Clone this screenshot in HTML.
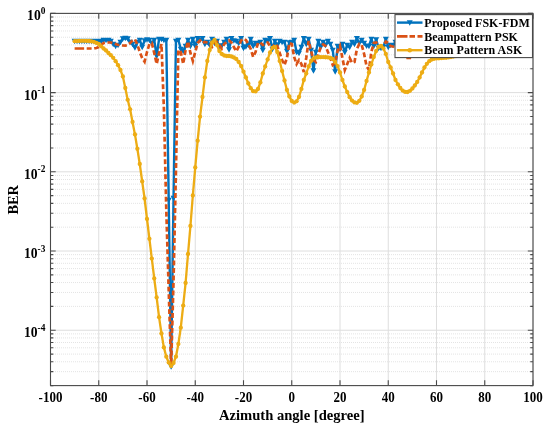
<!DOCTYPE html><html><head><meta charset="utf-8"><style>
html,body{margin:0;padding:0;background:#fff;width:550px;height:430px;overflow:hidden}
svg{display:block}
text{font-family:"Liberation Serif","Times New Roman",serif;font-weight:bold;fill:#000}
</style></head><body>
<svg width="550" height="430" viewBox="0 0 550 430">
<rect x="0" y="0" width="550" height="430" fill="#fff"/>
<line x1="51" y1="385.60" x2="533.0" y2="385.60" stroke="#e4e4e4" stroke-width="1" stroke-dasharray="1 1"/><line x1="51" y1="371.65" x2="533.0" y2="371.65" stroke="#e4e4e4" stroke-width="1" stroke-dasharray="1 1"/><line x1="51" y1="361.76" x2="533.0" y2="361.76" stroke="#e4e4e4" stroke-width="1" stroke-dasharray="1 1"/><line x1="51" y1="354.08" x2="533.0" y2="354.08" stroke="#e4e4e4" stroke-width="1" stroke-dasharray="1 1"/><line x1="51" y1="347.81" x2="533.0" y2="347.81" stroke="#e4e4e4" stroke-width="1" stroke-dasharray="1 1"/><line x1="51" y1="342.50" x2="533.0" y2="342.50" stroke="#e4e4e4" stroke-width="1" stroke-dasharray="1 1"/><line x1="51" y1="337.91" x2="533.0" y2="337.91" stroke="#e4e4e4" stroke-width="1" stroke-dasharray="1 1"/><line x1="51" y1="333.86" x2="533.0" y2="333.86" stroke="#e4e4e4" stroke-width="1" stroke-dasharray="1 1"/><line x1="50.5" y1="330.24" x2="533.0" y2="330.24" stroke="#dedede" stroke-width="1"/><line x1="51" y1="306.39" x2="533.0" y2="306.39" stroke="#e4e4e4" stroke-width="1" stroke-dasharray="1 1"/><line x1="51" y1="292.44" x2="533.0" y2="292.44" stroke="#e4e4e4" stroke-width="1" stroke-dasharray="1 1"/><line x1="51" y1="282.55" x2="533.0" y2="282.55" stroke="#e4e4e4" stroke-width="1" stroke-dasharray="1 1"/><line x1="51" y1="274.87" x2="533.0" y2="274.87" stroke="#e4e4e4" stroke-width="1" stroke-dasharray="1 1"/><line x1="51" y1="268.60" x2="533.0" y2="268.60" stroke="#e4e4e4" stroke-width="1" stroke-dasharray="1 1"/><line x1="51" y1="263.30" x2="533.0" y2="263.30" stroke="#e4e4e4" stroke-width="1" stroke-dasharray="1 1"/><line x1="51" y1="258.70" x2="533.0" y2="258.70" stroke="#e4e4e4" stroke-width="1" stroke-dasharray="1 1"/><line x1="51" y1="254.65" x2="533.0" y2="254.65" stroke="#e4e4e4" stroke-width="1" stroke-dasharray="1 1"/><line x1="50.5" y1="251.03" x2="533.0" y2="251.03" stroke="#dedede" stroke-width="1"/><line x1="51" y1="227.18" x2="533.0" y2="227.18" stroke="#e4e4e4" stroke-width="1" stroke-dasharray="1 1"/><line x1="51" y1="213.23" x2="533.0" y2="213.23" stroke="#e4e4e4" stroke-width="1" stroke-dasharray="1 1"/><line x1="51" y1="203.34" x2="533.0" y2="203.34" stroke="#e4e4e4" stroke-width="1" stroke-dasharray="1 1"/><line x1="51" y1="195.66" x2="533.0" y2="195.66" stroke="#e4e4e4" stroke-width="1" stroke-dasharray="1 1"/><line x1="51" y1="189.39" x2="533.0" y2="189.39" stroke="#e4e4e4" stroke-width="1" stroke-dasharray="1 1"/><line x1="51" y1="184.09" x2="533.0" y2="184.09" stroke="#e4e4e4" stroke-width="1" stroke-dasharray="1 1"/><line x1="51" y1="179.49" x2="533.0" y2="179.49" stroke="#e4e4e4" stroke-width="1" stroke-dasharray="1 1"/><line x1="51" y1="175.44" x2="533.0" y2="175.44" stroke="#e4e4e4" stroke-width="1" stroke-dasharray="1 1"/><line x1="50.5" y1="171.82" x2="533.0" y2="171.82" stroke="#dedede" stroke-width="1"/><line x1="51" y1="147.97" x2="533.0" y2="147.97" stroke="#e4e4e4" stroke-width="1" stroke-dasharray="1 1"/><line x1="51" y1="134.03" x2="533.0" y2="134.03" stroke="#e4e4e4" stroke-width="1" stroke-dasharray="1 1"/><line x1="51" y1="124.13" x2="533.0" y2="124.13" stroke="#e4e4e4" stroke-width="1" stroke-dasharray="1 1"/><line x1="51" y1="116.45" x2="533.0" y2="116.45" stroke="#e4e4e4" stroke-width="1" stroke-dasharray="1 1"/><line x1="51" y1="110.18" x2="533.0" y2="110.18" stroke="#e4e4e4" stroke-width="1" stroke-dasharray="1 1"/><line x1="51" y1="104.88" x2="533.0" y2="104.88" stroke="#e4e4e4" stroke-width="1" stroke-dasharray="1 1"/><line x1="51" y1="100.28" x2="533.0" y2="100.28" stroke="#e4e4e4" stroke-width="1" stroke-dasharray="1 1"/><line x1="51" y1="96.23" x2="533.0" y2="96.23" stroke="#e4e4e4" stroke-width="1" stroke-dasharray="1 1"/><line x1="50.5" y1="92.61" x2="533.0" y2="92.61" stroke="#dedede" stroke-width="1"/><line x1="51" y1="68.76" x2="533.0" y2="68.76" stroke="#e4e4e4" stroke-width="1" stroke-dasharray="1 1"/><line x1="51" y1="54.82" x2="533.0" y2="54.82" stroke="#e4e4e4" stroke-width="1" stroke-dasharray="1 1"/><line x1="51" y1="44.92" x2="533.0" y2="44.92" stroke="#e4e4e4" stroke-width="1" stroke-dasharray="1 1"/><line x1="51" y1="37.24" x2="533.0" y2="37.24" stroke="#e4e4e4" stroke-width="1" stroke-dasharray="1 1"/><line x1="51" y1="30.97" x2="533.0" y2="30.97" stroke="#e4e4e4" stroke-width="1" stroke-dasharray="1 1"/><line x1="51" y1="25.67" x2="533.0" y2="25.67" stroke="#e4e4e4" stroke-width="1" stroke-dasharray="1 1"/><line x1="51" y1="21.08" x2="533.0" y2="21.08" stroke="#e4e4e4" stroke-width="1" stroke-dasharray="1 1"/><line x1="51" y1="17.02" x2="533.0" y2="17.02" stroke="#e4e4e4" stroke-width="1" stroke-dasharray="1 1"/><line x1="50.5" y1="13.40" x2="533.0" y2="13.40" stroke="#dedede" stroke-width="1"/><line x1="50.50" y1="13.4" x2="50.50" y2="385.6" stroke="#dedede" stroke-width="1"/><line x1="98.75" y1="13.4" x2="98.75" y2="385.6" stroke="#dedede" stroke-width="1"/><line x1="147.00" y1="13.4" x2="147.00" y2="385.6" stroke="#dedede" stroke-width="1"/><line x1="195.25" y1="13.4" x2="195.25" y2="385.6" stroke="#dedede" stroke-width="1"/><line x1="243.50" y1="13.4" x2="243.50" y2="385.6" stroke="#dedede" stroke-width="1"/><line x1="291.75" y1="13.4" x2="291.75" y2="385.6" stroke="#dedede" stroke-width="1"/><line x1="340.00" y1="13.4" x2="340.00" y2="385.6" stroke="#dedede" stroke-width="1"/><line x1="388.25" y1="13.4" x2="388.25" y2="385.6" stroke="#dedede" stroke-width="1"/><line x1="436.50" y1="13.4" x2="436.50" y2="385.6" stroke="#dedede" stroke-width="1"/><line x1="484.75" y1="13.4" x2="484.75" y2="385.6" stroke="#dedede" stroke-width="1"/><line x1="533.00" y1="13.4" x2="533.00" y2="385.6" stroke="#dedede" stroke-width="1"/>
<defs><filter id="bl" x="-5%" y="-5%" width="110%" height="110%"><feGaussianBlur stdDeviation="0.4"/></filter></defs>
<g filter="url(#bl)">
<polyline points="74.62,41.00 77.04,41.00 79.45,41.00 81.86,41.00 84.28,41.00 86.69,41.00 89.10,41.00 91.51,41.00 93.92,41.00 96.34,41.00 98.75,41.00 101.16,41.00 103.58,40.00 105.99,40.00 108.40,40.00 110.81,41.00 113.22,44.00 115.64,46.00 118.05,45.00 120.46,42.00 122.88,38.50 125.29,38.00 127.70,38.50 130.11,42.00 132.53,44.00 134.94,47.50 137.35,42.00 139.76,40.00 142.18,47.00 144.59,40.50 147.00,39.50 149.41,40.00 151.82,43.00 154.24,40.00 156.65,56.00 159.06,39.00 161.47,39.00 163.89,40.00 166.30,40.00 168.71,200.00 171.12,366.50 173.54,198.00 175.95,41.00 178.36,40.00 180.78,49.00 183.19,51.00 185.60,46.00 188.01,40.00 190.43,46.00 192.84,39.00 195.25,46.00 197.66,38.30 200.07,40.00 202.49,38.30 204.90,44.00 207.31,42.00 209.72,45.00 212.14,39.00 214.55,43.00 216.96,41.00 219.38,47.00 221.79,45.50 224.20,42.00 226.61,39.00 229.03,49.50 231.44,38.30 233.85,40.50 236.26,41.00 238.68,43.00 241.09,38.30 243.50,48.00 245.91,46.50 248.32,45.00 250.74,39.00 253.15,46.00 255.56,43.00 257.98,43.00 260.39,42.00 262.80,50.00 265.21,40.00 267.62,41.00 270.04,38.30 272.45,49.00 274.86,41.00 277.27,45.00 279.69,41.00 282.10,42.00 284.51,42.00 286.93,51.00 289.34,42.50 291.75,42.00 294.16,40.00 296.57,52.00 298.99,53.00 301.40,47.00 303.81,38.30 306.23,44.00 308.64,39.00 311.05,50.00 313.46,70.50 315.88,52.00 318.29,41.00 320.70,47.00 323.11,42.00 325.52,45.00 327.94,41.00 330.35,44.00 332.76,50.00 335.18,71.50 337.59,46.00 340.00,49.00 342.41,44.00 344.82,52.00 347.24,45.00 349.65,47.00 352.06,42.00 354.48,44.00 356.89,38.30 359.30,43.00 361.71,40.00 364.12,43.00 366.54,45.80 368.95,46.00 371.36,39.00 373.77,46.00 376.19,39.50 378.60,48.00 381.01,48.00 383.43,47.00 385.84,39.00 388.25,47.00 390.66,45.00 393.07,45.00 395.49,42.07 397.90,43.04 400.31,42.19 402.73,43.29 405.14,42.61 407.55,45.14 409.96,38.85 412.38,40.73 414.79,38.82 417.20,44.24 419.61,46.84 422.02,43.89 424.44,39.42 426.85,42.76 429.26,39.71 431.68,38.27 434.09,41.96 436.50,42.67 438.91,42.50 441.32,42.12 443.74,46.98 446.15,45.56 448.56,40.84 450.98,40.60 453.39,44.90 455.80,45.62 458.21,46.62 460.62,38.00 463.04,46.19 465.45,46.82 467.86,38.66 470.27,45.01 472.69,38.78 475.10,46.68 477.51,39.06 479.93,38.91 482.34,45.17 484.75,43.03 487.16,39.72 489.57,39.18 491.99,39.05 494.40,39.92 496.81,46.74 499.23,40.74 501.64,39.90 504.05,45.69 506.46,38.90 508.88,39.92" fill="none" stroke="#0072BD" stroke-width="2.4" stroke-linejoin="round"/>
<path d="M71.62,38.70L77.62,38.70L74.62,44.20ZM74.04,38.70L80.04,38.70L77.04,44.20ZM76.45,38.70L82.45,38.70L79.45,44.20ZM78.86,38.70L84.86,38.70L81.86,44.20ZM81.28,38.70L87.28,38.70L84.28,44.20ZM83.69,38.70L89.69,38.70L86.69,44.20ZM86.10,38.70L92.10,38.70L89.10,44.20ZM88.51,38.70L94.51,38.70L91.51,44.20ZM90.92,38.70L96.92,38.70L93.92,44.20ZM93.34,38.70L99.34,38.70L96.34,44.20ZM95.75,38.70L101.75,38.70L98.75,44.20ZM98.16,38.70L104.16,38.70L101.16,44.20ZM100.58,37.70L106.58,37.70L103.58,43.20ZM102.99,37.70L108.99,37.70L105.99,43.20ZM105.40,37.70L111.40,37.70L108.40,43.20ZM107.81,38.70L113.81,38.70L110.81,44.20ZM110.22,41.70L116.22,41.70L113.22,47.20ZM112.64,43.70L118.64,43.70L115.64,49.20ZM115.05,42.70L121.05,42.70L118.05,48.20ZM117.46,39.70L123.46,39.70L120.46,45.20ZM119.88,36.20L125.88,36.20L122.88,41.70ZM122.29,35.70L128.29,35.70L125.29,41.20ZM124.70,36.20L130.70,36.20L127.70,41.70ZM127.11,39.70L133.11,39.70L130.11,45.20ZM129.53,41.70L135.53,41.70L132.53,47.20ZM131.94,45.20L137.94,45.20L134.94,50.70ZM134.35,39.70L140.35,39.70L137.35,45.20ZM136.76,37.70L142.76,37.70L139.76,43.20ZM139.18,44.70L145.18,44.70L142.18,50.20ZM141.59,38.20L147.59,38.20L144.59,43.70ZM144.00,37.20L150.00,37.20L147.00,42.70ZM146.41,37.70L152.41,37.70L149.41,43.20ZM148.82,40.70L154.82,40.70L151.82,46.20ZM151.24,37.70L157.24,37.70L154.24,43.20ZM153.65,53.70L159.65,53.70L156.65,59.20ZM156.06,36.70L162.06,36.70L159.06,42.20ZM158.47,36.70L164.47,36.70L161.47,42.20ZM160.89,37.70L166.89,37.70L163.89,43.20ZM163.30,37.70L169.30,37.70L166.30,43.20ZM165.71,197.70L171.71,197.70L168.71,203.20ZM168.12,364.20L174.12,364.20L171.12,369.70ZM170.54,195.70L176.54,195.70L173.54,201.20ZM172.95,38.70L178.95,38.70L175.95,44.20ZM175.36,37.70L181.36,37.70L178.36,43.20ZM177.78,46.70L183.78,46.70L180.78,52.20ZM180.19,48.70L186.19,48.70L183.19,54.20ZM182.60,43.70L188.60,43.70L185.60,49.20ZM185.01,37.70L191.01,37.70L188.01,43.20ZM187.43,43.70L193.43,43.70L190.43,49.20ZM189.84,36.70L195.84,36.70L192.84,42.20ZM192.25,43.70L198.25,43.70L195.25,49.20ZM194.66,36.00L200.66,36.00L197.66,41.50ZM197.07,37.70L203.07,37.70L200.07,43.20ZM199.49,36.00L205.49,36.00L202.49,41.50ZM201.90,41.70L207.90,41.70L204.90,47.20ZM204.31,39.70L210.31,39.70L207.31,45.20ZM206.72,42.70L212.72,42.70L209.72,48.20ZM209.14,36.70L215.14,36.70L212.14,42.20ZM211.55,40.70L217.55,40.70L214.55,46.20ZM213.96,38.70L219.96,38.70L216.96,44.20ZM216.38,44.70L222.38,44.70L219.38,50.20ZM218.79,43.20L224.79,43.20L221.79,48.70ZM221.20,39.70L227.20,39.70L224.20,45.20ZM223.61,36.70L229.61,36.70L226.61,42.20ZM226.03,47.20L232.03,47.20L229.03,52.70ZM228.44,36.00L234.44,36.00L231.44,41.50ZM230.85,38.20L236.85,38.20L233.85,43.70ZM233.26,38.70L239.26,38.70L236.26,44.20ZM235.68,40.70L241.68,40.70L238.68,46.20ZM238.09,36.00L244.09,36.00L241.09,41.50ZM240.50,45.70L246.50,45.70L243.50,51.20ZM242.91,44.20L248.91,44.20L245.91,49.70ZM245.32,42.70L251.32,42.70L248.32,48.20ZM247.74,36.70L253.74,36.70L250.74,42.20ZM250.15,43.70L256.15,43.70L253.15,49.20ZM252.56,40.70L258.56,40.70L255.56,46.20ZM254.98,40.70L260.98,40.70L257.98,46.20ZM257.39,39.70L263.39,39.70L260.39,45.20ZM259.80,47.70L265.80,47.70L262.80,53.20ZM262.21,37.70L268.21,37.70L265.21,43.20ZM264.62,38.70L270.62,38.70L267.62,44.20ZM267.04,36.00L273.04,36.00L270.04,41.50ZM269.45,46.70L275.45,46.70L272.45,52.20ZM271.86,38.70L277.86,38.70L274.86,44.20ZM274.27,42.70L280.27,42.70L277.27,48.20ZM276.69,38.70L282.69,38.70L279.69,44.20ZM279.10,39.70L285.10,39.70L282.10,45.20ZM281.51,39.70L287.51,39.70L284.51,45.20ZM283.93,48.70L289.93,48.70L286.93,54.20ZM286.34,40.20L292.34,40.20L289.34,45.70ZM288.75,39.70L294.75,39.70L291.75,45.20ZM291.16,37.70L297.16,37.70L294.16,43.20ZM293.57,49.70L299.57,49.70L296.57,55.20ZM295.99,50.70L301.99,50.70L298.99,56.20ZM298.40,44.70L304.40,44.70L301.40,50.20ZM300.81,36.00L306.81,36.00L303.81,41.50ZM303.23,41.70L309.23,41.70L306.23,47.20ZM305.64,36.70L311.64,36.70L308.64,42.20ZM308.05,47.70L314.05,47.70L311.05,53.20ZM310.46,68.20L316.46,68.20L313.46,73.70ZM312.88,49.70L318.88,49.70L315.88,55.20ZM315.29,38.70L321.29,38.70L318.29,44.20ZM317.70,44.70L323.70,44.70L320.70,50.20ZM320.11,39.70L326.11,39.70L323.11,45.20ZM322.52,42.70L328.52,42.70L325.52,48.20ZM324.94,38.70L330.94,38.70L327.94,44.20ZM327.35,41.70L333.35,41.70L330.35,47.20ZM329.76,47.70L335.76,47.70L332.76,53.20ZM332.18,69.20L338.18,69.20L335.18,74.70ZM334.59,43.70L340.59,43.70L337.59,49.20ZM337.00,46.70L343.00,46.70L340.00,52.20ZM339.41,41.70L345.41,41.70L342.41,47.20ZM341.82,49.70L347.82,49.70L344.82,55.20ZM344.24,42.70L350.24,42.70L347.24,48.20ZM346.65,44.70L352.65,44.70L349.65,50.20ZM349.06,39.70L355.06,39.70L352.06,45.20ZM351.48,41.70L357.48,41.70L354.48,47.20ZM353.89,36.00L359.89,36.00L356.89,41.50ZM356.30,40.70L362.30,40.70L359.30,46.20ZM358.71,37.70L364.71,37.70L361.71,43.20ZM361.12,40.70L367.12,40.70L364.12,46.20ZM363.54,43.50L369.54,43.50L366.54,49.00ZM365.95,43.70L371.95,43.70L368.95,49.20ZM368.36,36.70L374.36,36.70L371.36,42.20ZM370.77,43.70L376.77,43.70L373.77,49.20ZM373.19,37.20L379.19,37.20L376.19,42.70ZM375.60,45.70L381.60,45.70L378.60,51.20ZM378.01,45.70L384.01,45.70L381.01,51.20ZM380.43,44.70L386.43,44.70L383.43,50.20ZM382.84,36.70L388.84,36.70L385.84,42.20ZM385.25,44.70L391.25,44.70L388.25,50.20ZM387.66,42.70L393.66,42.70L390.66,48.20ZM390.07,42.70L396.07,42.70L393.07,48.20ZM392.49,39.77L398.49,39.77L395.49,45.27ZM394.90,40.74L400.90,40.74L397.90,46.24ZM397.31,39.89L403.31,39.89L400.31,45.39ZM399.73,40.99L405.73,40.99L402.73,46.49ZM402.14,40.31L408.14,40.31L405.14,45.81ZM404.55,42.84L410.55,42.84L407.55,48.34ZM406.96,36.55L412.96,36.55L409.96,42.05ZM409.38,38.43L415.38,38.43L412.38,43.93ZM411.79,36.52L417.79,36.52L414.79,42.02ZM414.20,41.94L420.20,41.94L417.20,47.44ZM416.61,44.54L422.61,44.54L419.61,50.04ZM419.02,41.59L425.02,41.59L422.02,47.09ZM421.44,37.12L427.44,37.12L424.44,42.62ZM423.85,40.46L429.85,40.46L426.85,45.96ZM426.26,37.41L432.26,37.41L429.26,42.91ZM428.68,35.97L434.68,35.97L431.68,41.47ZM431.09,39.66L437.09,39.66L434.09,45.16ZM433.50,40.37L439.50,40.37L436.50,45.87ZM435.91,40.20L441.91,40.20L438.91,45.70ZM438.32,39.82L444.32,39.82L441.32,45.32ZM440.74,44.68L446.74,44.68L443.74,50.18ZM443.15,43.26L449.15,43.26L446.15,48.76ZM445.56,38.54L451.56,38.54L448.56,44.04ZM447.98,38.30L453.98,38.30L450.98,43.80ZM450.39,42.60L456.39,42.60L453.39,48.10ZM452.80,43.32L458.80,43.32L455.80,48.82ZM455.21,44.32L461.21,44.32L458.21,49.82ZM457.62,35.70L463.62,35.70L460.62,41.20ZM460.04,43.89L466.04,43.89L463.04,49.39ZM462.45,44.52L468.45,44.52L465.45,50.02ZM464.86,36.36L470.86,36.36L467.86,41.86ZM467.27,42.71L473.27,42.71L470.27,48.21ZM469.69,36.48L475.69,36.48L472.69,41.98ZM472.10,44.38L478.10,44.38L475.10,49.88ZM474.51,36.76L480.51,36.76L477.51,42.26ZM476.93,36.61L482.93,36.61L479.93,42.11ZM479.34,42.87L485.34,42.87L482.34,48.37ZM481.75,40.73L487.75,40.73L484.75,46.23ZM484.16,37.42L490.16,37.42L487.16,42.92ZM486.57,36.88L492.57,36.88L489.57,42.38ZM488.99,36.75L494.99,36.75L491.99,42.25ZM491.40,37.62L497.40,37.62L494.40,43.12ZM493.81,44.44L499.81,44.44L496.81,49.94ZM496.23,38.44L502.23,38.44L499.23,43.94ZM498.64,37.60L504.64,37.60L501.64,43.10ZM501.05,43.39L507.05,43.39L504.05,48.89ZM503.46,36.60L509.46,36.60L506.46,42.10ZM505.88,37.62L511.88,37.62L508.88,43.12Z" fill="#0072BD"/>
<polyline points="74.62,48.50 77.04,48.50 79.45,48.50 81.86,48.50 84.28,48.50 86.69,48.50 89.10,48.50 91.51,48.50 93.92,48.50 96.34,48.00 98.75,47.00 101.16,45.00 103.58,43.00 105.99,42.70 108.40,42.50 110.81,42.50 113.22,43.00 115.64,44.00 118.05,45.00 120.46,45.00 122.88,45.50 125.29,45.60 127.70,45.00 130.11,43.00 132.53,40.50 134.94,39.50 137.35,44.50 139.76,52.00 142.18,58.00 144.59,61.60 147.00,52.00 149.41,44.00 151.82,43.00 154.24,53.00 156.65,64.00 159.06,53.00 161.47,44.00 163.89,108.00 166.30,210.00 168.71,290.00 171.12,366.00 173.54,280.00 175.95,170.00 178.36,50.00 180.78,52.00 183.19,64.00 185.60,50.00 188.01,41.50 190.43,53.00 192.84,61.00 195.25,52.00 197.66,43.00 200.07,40.50 202.49,43.00 204.90,42.00 207.31,42.50 209.72,43.00 212.14,47.00 214.55,44.00 216.96,42.00 219.38,45.00 221.79,48.60 224.20,44.00 226.61,42.00 229.03,40.50 231.44,42.50 233.85,47.00 236.26,51.40 238.68,47.00 241.09,40.50 243.50,38.80 245.91,40.00 248.32,44.00 250.74,49.00 253.15,57.00 255.56,52.00 257.98,43.00 260.39,42.50 262.80,45.00 265.21,44.00 267.62,42.50 270.04,46.00 272.45,48.00 274.86,44.00 277.27,46.00 279.69,53.00 282.10,60.00 284.51,65.00 286.93,58.00 289.34,43.00 291.75,44.00 294.16,57.00 296.57,64.00 298.99,60.00 301.40,64.00 303.81,72.00 306.23,58.00 308.64,41.00 311.05,51.00 313.46,60.00 315.88,62.00 318.29,55.00 320.70,47.00 323.11,44.50 325.52,46.00 327.94,52.00 330.35,58.00 332.76,65.00 335.18,63.00 337.59,51.00 340.00,46.00 342.41,58.00 344.82,70.00 347.24,64.00 349.65,58.00 352.06,63.00 354.48,62.00 356.89,49.00 359.30,44.00 361.71,45.00 364.12,54.00 366.54,66.00 368.95,70.00 371.36,52.00 373.77,43.00 376.19,42.50 378.60,45.50 381.01,46.80 383.43,45.00 385.84,41.50 388.25,43.00 390.66,46.00 393.07,46.50 395.49,45.00 397.90,51.09 400.31,46.09 402.73,42.22 405.14,47.56 407.55,57.80 409.96,57.80 412.38,50.00 414.79,49.72 417.20,40.50 419.61,51.58 422.02,47.39 424.44,40.18 426.85,40.71 429.26,42.90 431.68,45.57 434.09,50.11 436.50,47.68 438.91,47.95 441.32,43.34 443.74,51.95 446.15,48.49 448.56,42.76 450.98,40.84 453.39,44.80 455.80,44.64 458.21,50.17 460.62,42.52 463.04,45.64 465.45,44.77 467.86,47.55 470.27,43.24 472.69,43.99 475.10,49.10 477.51,42.96 479.93,40.72 482.34,42.13 484.75,45.37 487.16,48.78 489.57,47.72 491.99,45.05 494.40,43.24 496.81,49.64 499.23,50.62 501.64,44.73 504.05,47.70 506.46,51.87 508.88,43.10" fill="none" stroke="#DA5114" stroke-width="2.7" stroke-dasharray="9.5 2.6 4.9 2.6 4.9 2.6 4.9 2.6 4.9 2.6 4.9 2.6 4.9 2.6 4.9 2.6 4.9 2.6 4.9 2.6 4.9 2.6 4.9 2.6 4.9 2.6 4.9 2.6 4.9 2.6 4.9 2.6 4.9 2.6 4.9 2.6 4.9 2.6 4.9 2.6 4.9 2.6 4.9 2.6 4.9 2.6 4.9 2.6 4.9 2.6 4.9 2.6 4.9 2.6 4.9 2.6 4.9 2.6 4.9 2.6 4.9 2.6 4.9 2.6 4.9 2.6 4.9 2.6 4.9 2.6 4.9 2.6 4.9 2.6 4.9 2.6 4.9 2.6 4.9 2.6 4.9 2.6 4.9 2.6 4.9 2.6 4.9 2.6 4.9 2.6 4.9 2.6 4.9 2.6 4.9 2.6 4.9 2.6 4.9 2.6 4.9 2.6 4.9 2.6 4.9 2.6 4.9 2.6 4.9 2.6 4.9 2.6 4.9 2.6 4.9 2.6 4.9 2.6 4.9 2.6 4.9 2.6 4.9 2.6 4.9 2.6 4.9 2.6 4.9 2.6 4.9 2.6 4.9 2.6 4.9 2.6 4.9 2.6 4.9 2.6 4.9 2.6 4.9 2.6 4.9 2.6 4.9 2.6 4.9 2.6 4.9 2.6 4.9 2.6 4.9 2.6 4.9 2.6 4.9 2.6 4.9 2.6 4.9 2.6 4.9 2.6 4.9 2.6 4.9 2.6 4.9 2.6 4.9 2.6 4.9 2.6 4.9 2.6 4.9 2.6 4.9 2.6 4.9 2.6 4.9 2.6 4.9 2.6 4.9 2.6 4.9 2.6 4.9 2.6 4.9 2.6 4.9 2.6 4.9 2.6 4.9 2.6 4.9 2.6 4.9 2.6 4.9 2.6 4.9 2.6 4.9 2.6 4.9 2.6 4.9 2.6 4.9 2.6 4.9 2.6 4.9 2.6 4.9 2.6 4.9 2.6 4.9 2.6 4.9 2.6 4.9 2.6 4.9 2.6 4.9 2.6 4.9 2.6 4.9 2.6 4.9 2.6 4.9 2.6 4.9 2.6 4.9 2.6 4.9 2.6 4.9 2.6 4.9 2.6 4.9 2.6 4.9 2.6 4.9 2.6 4.9 2.6 4.9 2.6 4.9 2.6 4.9 2.6 4.9 2.6 4.9 2.6 4.9 2.6 4.9 2.6 4.9 2.6 4.9 2.6 4.9 2.6 4.9 2.6 4.9 2.6 4.9 2.6 4.9 2.6 4.9 2.6 4.9 2.6 4.9 2.6 4.9 2.6 4.9 2.6 4.9 2.6 4.9 2.6 4.9 2.6 4.9 2.6 4.9 2.6 4.9 2.6 4.9 2.6 4.9 2.6 4.9 2.6 4.9 2.6 4.9 2.6 4.9 2.6 4.9 2.6 4.9 2.6 4.9 2.6 4.9 2.6 4.9 2.6 4.9 2.6 4.9 2.6 4.9 2.6 4.9 2.6 4.9 2.6 4.9 2.6 4.9 2.6 4.9 2.6 4.9 2.6 4.9 2.6 4.9 2.6 4.9 2.6 4.9 2.6 4.9 2.6 4.9 2.6 4.9 2.6 4.9 2.6 4.9 2.6 4.9 2.6 4.9 2.6 4.9 2.6 4.9 2.6 4.9 2.6 4.9 2.6 4.9 2.6 4.9 2.6 4.9 2.6 4.9 2.6 4.9 2.6 4.9 2.6 4.9 2.6 4.9 2.6 4.9 2.6 4.9 2.6 4.9 2.6 4.9 2.6 4.9 2.6 4.9 2.6 4.9 2.6 4.9 2.6 4.9 2.6 4.9 2.6 4.9 2.6 4.9 2.6 4.9 2.6 4.9 2.6 4.9 2.6 4.9 2.6 4.9 2.6 4.9 2.6 4.9 2.6 4.9 2.6 4.9 2.6 4.9 2.6 4.9 2.6 4.9 2.6 4.9 2.6 4.9 2.6 4.9 2.6 4.9 2.6 4.9 2.6 4.9 2.6 4.9 2.6 4.9 2.6 4.9 2.6 4.9 2.6 4.9 2.6 4.9 2.6 4.9 2.6 4.9 2.6 4.9 2.6 4.9 2.6 4.9 2.6 4.9 2.6 4.9 2.6 4.9 2.6 4.9 2.6 4.9 2.6 4.9 2.6 4.9 2.6 4.9 2.6 4.9 2.6 4.9 2.6 4.9 2.6 4.9 2.6 4.9 2.6 4.9 2.6 4.9 2.6 4.9 2.6 4.9 2.6 4.9 2.6 4.9 2.6 4.9 2.6 4.9 2.6 4.9 2.6 4.9 2.6 4.9 2.6 4.9 2.6 4.9 2.6 4.9 2.6 4.9 2.6 4.9 2.6 4.9 2.6 4.9 2.6 4.9 2.6 4.9 2.6 4.9 2.6 4.9 2.6 4.9 2.6 4.9 2.6 4.9 2.6 4.9 2.6 4.9 2.6 4.9 2.6 4.9 2.6 4.9 2.6 4.9 2.6 4.9 2.6 4.9 2.6 4.9 2.6 4.9 2.6 4.9 2.6 4.9 2.6 4.9 2.6 4.9 2.6 4.9 2.6 4.9 2.6 4.9 2.6 4.9 2.6 4.9 2.6 4.9 2.6 4.9 2.6 4.9 2.6 4.9 2.6 4.9 2.6 4.9 2.6 4.9 2.6 4.9 2.6 4.9 2.6 4.9 2.6 4.9 2.6 4.9 2.6 4.9 2.6 4.9 2.6 4.9 2.6 4.9 2.6 4.9 2.6 4.9 2.6 4.9 2.6 4.9 2.6 4.9 2.6 4.9 2.6 4.9 2.6 4.9 2.6 4.9 2.6 4.9 2.6 4.9 2.6 4.9 2.6 4.9 2.6 4.9 2.6 4.9 2.6 4.9 2.6 4.9 2.6 4.9 2.6 4.9 2.6 4.9 2.6 4.9 2.6 4.9 2.6 4.9 2.6 4.9 2.6 4.9 2.6 4.9 2.6 4.9 2.6 4.9 2.6 4.9 2.6 4.9 2.6 4.9 2.6 4.9 2.6 4.9 2.6 4.9 2.6 4.9 2.6 4.9 2.6 4.9 2.6 4.9 2.6 4.9 2.6 4.9 2.6 4.9 2.6 4.9 2.6 4.9 2.6 4.9 2.6 4.9 2.6 4.9 2.6 4.9 2.6 4.9 2.6 4.9 2.6 4.9 2.6 4.9 2.6 4.9 2.6 4.9 2.6 4.9 2.6 4.9 2.6 4.9 2.6 4.9 2.6 4.9 2.6 4.9 2.6 4.9 2.6 4.9 2.6 4.9 2.6 4.9 2.6 4.9 2.6 4.9 2.6 4.9 2.6 4.9 2.6 4.9 2.6 4.9 2.6 4.9 2.6 4.9 2.6 4.9 2.6 4.9 2.6 4.9 2.6 4.9 2.6 4.9 2.6 4.9 2.6 4.9 2.6 4.9 2.6 4.9 2.6 4.9 2.6 4.9 2.6 4.9 2.6 4.9 2.6 4.9 2.6 4.9 2.6 4.9 2.6 4.9 2.6"/>
<polyline points="74.62,41.20 77.04,41.05 79.45,40.90 81.86,40.85 84.28,40.80 86.69,40.90 89.10,41.00 91.51,41.40 93.92,41.80 96.34,42.90 98.75,44.00 101.16,46.30 103.58,48.50 105.99,50.50 108.40,53.00 110.81,55.20 113.22,57.80 115.64,61.20 118.05,65.20 120.46,70.00 122.88,76.50 125.29,88.00 127.70,99.80 130.11,109.30 132.53,122.00 134.94,134.40 137.35,148.80 139.76,164.00 142.18,181.40 144.59,198.50 147.00,219.00 149.41,238.80 151.82,258.60 154.24,278.40 156.65,297.40 159.06,317.20 161.47,333.50 163.89,347.40 166.30,356.70 168.71,362.50 171.12,366.00 173.54,363.00 175.95,356.70 178.36,344.00 180.78,327.70 183.19,305.60 185.60,283.00 188.01,254.00 190.43,226.00 192.84,195.50 195.25,167.40 197.66,140.70 200.07,116.70 202.49,97.00 204.90,77.40 207.31,61.00 209.72,50.00 212.14,42.50 214.55,40.00 216.96,45.00 219.38,51.00 221.79,54.00 224.20,55.50 226.61,56.00 229.03,56.00 231.44,56.50 233.85,57.50 236.26,59.00 238.68,62.00 241.09,66.00 243.50,71.70 245.91,77.50 248.32,83.50 250.74,88.20 253.15,91.20 255.56,91.40 257.98,89.00 260.39,82.50 262.80,73.50 265.21,66.50 267.62,59.50 270.04,52.50 272.45,47.80 274.86,46.80 277.27,52.00 279.69,61.00 282.10,71.00 284.51,80.50 286.93,90.00 289.34,96.50 291.75,101.00 294.16,102.60 296.57,101.30 298.99,97.00 301.40,89.00 303.81,80.00 306.23,73.50 308.64,66.50 311.05,61.00 313.46,58.40 315.88,57.50 318.29,57.20 320.70,57.15 323.11,57.10 325.52,57.25 327.94,57.40 330.35,58.00 332.76,59.00 335.18,62.00 337.59,66.10 340.00,72.50 342.41,80.00 344.82,86.50 347.24,92.10 349.65,97.20 352.06,100.60 354.48,102.40 356.89,102.80 359.30,100.80 361.71,96.50 364.12,90.00 366.54,81.00 368.95,72.50 371.36,64.50 373.77,57.00 376.19,51.00 378.60,47.00 381.01,45.87 383.43,48.50 385.84,54.00 388.25,62.00 390.66,67.50 393.07,73.50 395.49,80.00 397.90,84.30 400.31,88.00 402.73,90.60 405.14,91.90 407.55,92.00 409.96,90.80 412.38,88.50 414.79,85.50 417.20,82.00 419.61,77.50 422.02,72.50 424.44,67.50 426.85,63.80 429.26,61.20 431.68,59.60 434.09,58.80 436.50,58.40 438.91,58.25 441.32,58.10 443.74,57.95 446.15,57.80 448.56,57.40 450.98,57.00 453.39,56.50 455.80,56.00 458.21,55.50 460.62,55.00 463.04,54.60 465.45,54.20 467.86,53.80 470.27,53.40 472.69,53.00 475.10,52.80 477.51,52.60 479.93,52.40 482.34,52.20 484.75,52.00 487.16,52.00 489.57,52.00 491.99,52.00 494.40,52.00 496.81,52.00 499.23,52.00 501.64,52.00 504.05,52.00 506.46,52.00 508.88,52.00" fill="none" stroke="#EDAC12" stroke-width="2.3" stroke-linejoin="round"/>
<g fill="#EDAC12"><circle cx="74.62" cy="41.20" r="2.15"/><circle cx="77.04" cy="41.05" r="2.15"/><circle cx="79.45" cy="40.90" r="2.15"/><circle cx="81.86" cy="40.85" r="2.15"/><circle cx="84.28" cy="40.80" r="2.15"/><circle cx="86.69" cy="40.90" r="2.15"/><circle cx="89.10" cy="41.00" r="2.15"/><circle cx="91.51" cy="41.40" r="2.15"/><circle cx="93.92" cy="41.80" r="2.15"/><circle cx="96.34" cy="42.90" r="2.15"/><circle cx="98.75" cy="44.00" r="2.15"/><circle cx="101.16" cy="46.30" r="2.15"/><circle cx="103.58" cy="48.50" r="2.15"/><circle cx="105.99" cy="50.50" r="2.15"/><circle cx="108.40" cy="53.00" r="2.15"/><circle cx="110.81" cy="55.20" r="2.15"/><circle cx="113.22" cy="57.80" r="2.15"/><circle cx="115.64" cy="61.20" r="2.15"/><circle cx="118.05" cy="65.20" r="2.15"/><circle cx="120.46" cy="70.00" r="2.15"/><circle cx="122.88" cy="76.50" r="2.15"/><circle cx="125.29" cy="88.00" r="2.15"/><circle cx="127.70" cy="99.80" r="2.15"/><circle cx="130.11" cy="109.30" r="2.15"/><circle cx="132.53" cy="122.00" r="2.15"/><circle cx="134.94" cy="134.40" r="2.15"/><circle cx="137.35" cy="148.80" r="2.15"/><circle cx="139.76" cy="164.00" r="2.15"/><circle cx="142.18" cy="181.40" r="2.15"/><circle cx="144.59" cy="198.50" r="2.15"/><circle cx="147.00" cy="219.00" r="2.15"/><circle cx="149.41" cy="238.80" r="2.15"/><circle cx="151.82" cy="258.60" r="2.15"/><circle cx="154.24" cy="278.40" r="2.15"/><circle cx="156.65" cy="297.40" r="2.15"/><circle cx="159.06" cy="317.20" r="2.15"/><circle cx="161.47" cy="333.50" r="2.15"/><circle cx="163.89" cy="347.40" r="2.15"/><circle cx="166.30" cy="356.70" r="2.15"/><circle cx="168.71" cy="362.50" r="2.15"/><circle cx="171.12" cy="366.00" r="2.15"/><circle cx="173.54" cy="363.00" r="2.15"/><circle cx="175.95" cy="356.70" r="2.15"/><circle cx="178.36" cy="344.00" r="2.15"/><circle cx="180.78" cy="327.70" r="2.15"/><circle cx="183.19" cy="305.60" r="2.15"/><circle cx="185.60" cy="283.00" r="2.15"/><circle cx="188.01" cy="254.00" r="2.15"/><circle cx="190.43" cy="226.00" r="2.15"/><circle cx="192.84" cy="195.50" r="2.15"/><circle cx="195.25" cy="167.40" r="2.15"/><circle cx="197.66" cy="140.70" r="2.15"/><circle cx="200.07" cy="116.70" r="2.15"/><circle cx="202.49" cy="97.00" r="2.15"/><circle cx="204.90" cy="77.40" r="2.15"/><circle cx="207.31" cy="61.00" r="2.15"/><circle cx="209.72" cy="50.00" r="2.15"/><circle cx="212.14" cy="42.50" r="2.15"/><circle cx="214.55" cy="40.00" r="2.15"/><circle cx="216.96" cy="45.00" r="2.15"/><circle cx="219.38" cy="51.00" r="2.15"/><circle cx="221.79" cy="54.00" r="2.15"/><circle cx="224.20" cy="55.50" r="2.15"/><circle cx="226.61" cy="56.00" r="2.15"/><circle cx="229.03" cy="56.00" r="2.15"/><circle cx="231.44" cy="56.50" r="2.15"/><circle cx="233.85" cy="57.50" r="2.15"/><circle cx="236.26" cy="59.00" r="2.15"/><circle cx="238.68" cy="62.00" r="2.15"/><circle cx="241.09" cy="66.00" r="2.15"/><circle cx="243.50" cy="71.70" r="2.15"/><circle cx="245.91" cy="77.50" r="2.15"/><circle cx="248.32" cy="83.50" r="2.15"/><circle cx="250.74" cy="88.20" r="2.15"/><circle cx="253.15" cy="91.20" r="2.15"/><circle cx="255.56" cy="91.40" r="2.15"/><circle cx="257.98" cy="89.00" r="2.15"/><circle cx="260.39" cy="82.50" r="2.15"/><circle cx="262.80" cy="73.50" r="2.15"/><circle cx="265.21" cy="66.50" r="2.15"/><circle cx="267.62" cy="59.50" r="2.15"/><circle cx="270.04" cy="52.50" r="2.15"/><circle cx="272.45" cy="47.80" r="2.15"/><circle cx="274.86" cy="46.80" r="2.15"/><circle cx="277.27" cy="52.00" r="2.15"/><circle cx="279.69" cy="61.00" r="2.15"/><circle cx="282.10" cy="71.00" r="2.15"/><circle cx="284.51" cy="80.50" r="2.15"/><circle cx="286.93" cy="90.00" r="2.15"/><circle cx="289.34" cy="96.50" r="2.15"/><circle cx="291.75" cy="101.00" r="2.15"/><circle cx="294.16" cy="102.60" r="2.15"/><circle cx="296.57" cy="101.30" r="2.15"/><circle cx="298.99" cy="97.00" r="2.15"/><circle cx="301.40" cy="89.00" r="2.15"/><circle cx="303.81" cy="80.00" r="2.15"/><circle cx="306.23" cy="73.50" r="2.15"/><circle cx="308.64" cy="66.50" r="2.15"/><circle cx="311.05" cy="61.00" r="2.15"/><circle cx="313.46" cy="58.40" r="2.15"/><circle cx="315.88" cy="57.50" r="2.15"/><circle cx="318.29" cy="57.20" r="2.15"/><circle cx="320.70" cy="57.15" r="2.15"/><circle cx="323.11" cy="57.10" r="2.15"/><circle cx="325.52" cy="57.25" r="2.15"/><circle cx="327.94" cy="57.40" r="2.15"/><circle cx="330.35" cy="58.00" r="2.15"/><circle cx="332.76" cy="59.00" r="2.15"/><circle cx="335.18" cy="62.00" r="2.15"/><circle cx="337.59" cy="66.10" r="2.15"/><circle cx="340.00" cy="72.50" r="2.15"/><circle cx="342.41" cy="80.00" r="2.15"/><circle cx="344.82" cy="86.50" r="2.15"/><circle cx="347.24" cy="92.10" r="2.15"/><circle cx="349.65" cy="97.20" r="2.15"/><circle cx="352.06" cy="100.60" r="2.15"/><circle cx="354.48" cy="102.40" r="2.15"/><circle cx="356.89" cy="102.80" r="2.15"/><circle cx="359.30" cy="100.80" r="2.15"/><circle cx="361.71" cy="96.50" r="2.15"/><circle cx="364.12" cy="90.00" r="2.15"/><circle cx="366.54" cy="81.00" r="2.15"/><circle cx="368.95" cy="72.50" r="2.15"/><circle cx="371.36" cy="64.50" r="2.15"/><circle cx="373.77" cy="57.00" r="2.15"/><circle cx="376.19" cy="51.00" r="2.15"/><circle cx="378.60" cy="47.00" r="2.15"/><circle cx="381.01" cy="45.87" r="2.15"/><circle cx="383.43" cy="48.50" r="2.15"/><circle cx="385.84" cy="54.00" r="2.15"/><circle cx="388.25" cy="62.00" r="2.15"/><circle cx="390.66" cy="67.50" r="2.15"/><circle cx="393.07" cy="73.50" r="2.15"/><circle cx="395.49" cy="80.00" r="2.15"/><circle cx="397.90" cy="84.30" r="2.15"/><circle cx="400.31" cy="88.00" r="2.15"/><circle cx="402.73" cy="90.60" r="2.15"/><circle cx="405.14" cy="91.90" r="2.15"/><circle cx="407.55" cy="92.00" r="2.15"/><circle cx="409.96" cy="90.80" r="2.15"/><circle cx="412.38" cy="88.50" r="2.15"/><circle cx="414.79" cy="85.50" r="2.15"/><circle cx="417.20" cy="82.00" r="2.15"/><circle cx="419.61" cy="77.50" r="2.15"/><circle cx="422.02" cy="72.50" r="2.15"/><circle cx="424.44" cy="67.50" r="2.15"/><circle cx="426.85" cy="63.80" r="2.15"/><circle cx="429.26" cy="61.20" r="2.15"/><circle cx="431.68" cy="59.60" r="2.15"/><circle cx="434.09" cy="58.80" r="2.15"/><circle cx="436.50" cy="58.40" r="2.15"/><circle cx="438.91" cy="58.25" r="2.15"/><circle cx="441.32" cy="58.10" r="2.15"/><circle cx="443.74" cy="57.95" r="2.15"/><circle cx="446.15" cy="57.80" r="2.15"/><circle cx="448.56" cy="57.40" r="2.15"/><circle cx="450.98" cy="57.00" r="2.15"/><circle cx="453.39" cy="56.50" r="2.15"/><circle cx="455.80" cy="56.00" r="2.15"/><circle cx="458.21" cy="55.50" r="2.15"/><circle cx="460.62" cy="55.00" r="2.15"/><circle cx="463.04" cy="54.60" r="2.15"/><circle cx="465.45" cy="54.20" r="2.15"/><circle cx="467.86" cy="53.80" r="2.15"/><circle cx="470.27" cy="53.40" r="2.15"/><circle cx="472.69" cy="53.00" r="2.15"/><circle cx="475.10" cy="52.80" r="2.15"/><circle cx="477.51" cy="52.60" r="2.15"/><circle cx="479.93" cy="52.40" r="2.15"/><circle cx="482.34" cy="52.20" r="2.15"/><circle cx="484.75" cy="52.00" r="2.15"/><circle cx="487.16" cy="52.00" r="2.15"/><circle cx="489.57" cy="52.00" r="2.15"/><circle cx="491.99" cy="52.00" r="2.15"/><circle cx="494.40" cy="52.00" r="2.15"/><circle cx="496.81" cy="52.00" r="2.15"/><circle cx="499.23" cy="52.00" r="2.15"/><circle cx="501.64" cy="52.00" r="2.15"/><circle cx="504.05" cy="52.00" r="2.15"/><circle cx="506.46" cy="52.00" r="2.15"/><circle cx="508.88" cy="52.00" r="2.15"/></g>
<rect x="50.5" y="13.4" width="482.5" height="372.20000000000005" fill="none" stroke="#4a4a4a" stroke-width="1.1"/><path d="M50.50,385.6v-5.3M50.50,13.4v5.3M98.75,385.6v-5.3M98.75,13.4v5.3M147.00,385.6v-5.3M147.00,13.4v5.3M195.25,385.6v-5.3M195.25,13.4v5.3M243.50,385.6v-5.3M243.50,13.4v5.3M291.75,385.6v-5.3M291.75,13.4v5.3M340.00,385.6v-5.3M340.00,13.4v5.3M388.25,385.6v-5.3M388.25,13.4v5.3M436.50,385.6v-5.3M436.50,13.4v5.3M484.75,385.6v-5.3M484.75,13.4v5.3M533.00,385.6v-5.3M533.00,13.4v5.3M50.5,385.60h2.8M533.0,385.60h-2.8M50.5,371.65h2.8M533.0,371.65h-2.8M50.5,361.76h2.8M533.0,361.76h-2.8M50.5,354.08h2.8M533.0,354.08h-2.8M50.5,347.81h2.8M533.0,347.81h-2.8M50.5,342.50h2.8M533.0,342.50h-2.8M50.5,337.91h2.8M533.0,337.91h-2.8M50.5,333.86h2.8M533.0,333.86h-2.8M50.5,330.24h5.2M533.0,330.24h-5.2M50.5,306.39h2.8M533.0,306.39h-2.8M50.5,292.44h2.8M533.0,292.44h-2.8M50.5,282.55h2.8M533.0,282.55h-2.8M50.5,274.87h2.8M533.0,274.87h-2.8M50.5,268.60h2.8M533.0,268.60h-2.8M50.5,263.30h2.8M533.0,263.30h-2.8M50.5,258.70h2.8M533.0,258.70h-2.8M50.5,254.65h2.8M533.0,254.65h-2.8M50.5,251.03h5.2M533.0,251.03h-5.2M50.5,227.18h2.8M533.0,227.18h-2.8M50.5,213.23h2.8M533.0,213.23h-2.8M50.5,203.34h2.8M533.0,203.34h-2.8M50.5,195.66h2.8M533.0,195.66h-2.8M50.5,189.39h2.8M533.0,189.39h-2.8M50.5,184.09h2.8M533.0,184.09h-2.8M50.5,179.49h2.8M533.0,179.49h-2.8M50.5,175.44h2.8M533.0,175.44h-2.8M50.5,171.82h5.2M533.0,171.82h-5.2M50.5,147.97h2.8M533.0,147.97h-2.8M50.5,134.03h2.8M533.0,134.03h-2.8M50.5,124.13h2.8M533.0,124.13h-2.8M50.5,116.45h2.8M533.0,116.45h-2.8M50.5,110.18h2.8M533.0,110.18h-2.8M50.5,104.88h2.8M533.0,104.88h-2.8M50.5,100.28h2.8M533.0,100.28h-2.8M50.5,96.23h2.8M533.0,96.23h-2.8M50.5,92.61h5.2M533.0,92.61h-5.2M50.5,68.76h2.8M533.0,68.76h-2.8M50.5,54.82h2.8M533.0,54.82h-2.8M50.5,44.92h2.8M533.0,44.92h-2.8M50.5,37.24h2.8M533.0,37.24h-2.8M50.5,30.97h2.8M533.0,30.97h-2.8M50.5,25.67h2.8M533.0,25.67h-2.8M50.5,21.08h2.8M533.0,21.08h-2.8M50.5,17.02h2.8M533.0,17.02h-2.8M50.5,13.40h5.2M533.0,13.40h-5.2" stroke="#4a4a4a" stroke-width="1.1" fill="none"/>
<text transform="translate(50.50,402.4) scale(1,1.15)" font-size="13" text-anchor="middle">-100</text><text transform="translate(98.75,402.4) scale(1,1.15)" font-size="13" text-anchor="middle">-80</text><text transform="translate(147.00,402.4) scale(1,1.15)" font-size="13" text-anchor="middle">-60</text><text transform="translate(195.25,402.4) scale(1,1.15)" font-size="13" text-anchor="middle">-40</text><text transform="translate(243.50,402.4) scale(1,1.15)" font-size="13" text-anchor="middle">-20</text><text transform="translate(291.75,402.4) scale(1,1.15)" font-size="13" text-anchor="middle">0</text><text transform="translate(340.00,402.4) scale(1,1.15)" font-size="13" text-anchor="middle">20</text><text transform="translate(388.25,402.4) scale(1,1.15)" font-size="13" text-anchor="middle">40</text><text transform="translate(436.50,402.4) scale(1,1.15)" font-size="13" text-anchor="middle">60</text><text transform="translate(484.75,402.4) scale(1,1.15)" font-size="13" text-anchor="middle">80</text><text transform="translate(533.00,402.4) scale(1,1.15)" font-size="13" text-anchor="middle">100</text><text transform="translate(45.4,20.40)" font-size="13.6" text-anchor="end">10<tspan font-size="9.4" dy="-6.5">0</tspan></text><text transform="translate(45.4,99.61)" font-size="13.6" text-anchor="end">10<tspan font-size="9.4" dy="-6.5">-1</tspan></text><text transform="translate(45.4,178.82)" font-size="13.6" text-anchor="end">10<tspan font-size="9.4" dy="-6.5">-2</tspan></text><text transform="translate(45.4,258.03)" font-size="13.6" text-anchor="end">10<tspan font-size="9.4" dy="-6.5">-3</tspan></text><text transform="translate(45.4,337.24)" font-size="13.6" text-anchor="end">10<tspan font-size="9.4" dy="-6.5">-4</tspan></text>
<text x="291.75" y="419.5" font-size="14.6" text-anchor="middle">Azimuth angle [degree]</text>
<text transform="translate(17.9,199.80) rotate(-90)" font-size="14.3" text-anchor="middle">BER</text>
<rect x="395.0" y="14.6" width="137.5" height="43.0" fill="#fff" stroke="#4a4a4a" stroke-width="1.1"/>
<line x1="397.0" y1="22.6" x2="422.5" y2="22.6" stroke="#0072BD" stroke-width="2.4"/>
<path d="M406.75,20.30L412.75,20.30L409.75,25.80Z" fill="#0072BD"/>
<path d="M397,36.4H407.5M409.5,36.4H415M417.5,36.4H422.5" stroke="#DA5114" stroke-width="2.6"/>
<line x1="397.0" y1="50.2" x2="422.5" y2="50.2" stroke="#EDAC12" stroke-width="2.4"/>
<circle cx="409.75" cy="50.2" r="2.3" fill="#EDAC12"/>
<text transform="translate(424.3,26.70) scale(1,1.1)" font-size="12">Proposed FSK-FDM</text>
<text transform="translate(424.3,40.50) scale(1,1.1)" font-size="12">Beampattern PSK</text>
<text transform="translate(424.3,54.30) scale(1,1.1)" font-size="12">Beam Pattern ASK</text>
</g></svg></body></html>
